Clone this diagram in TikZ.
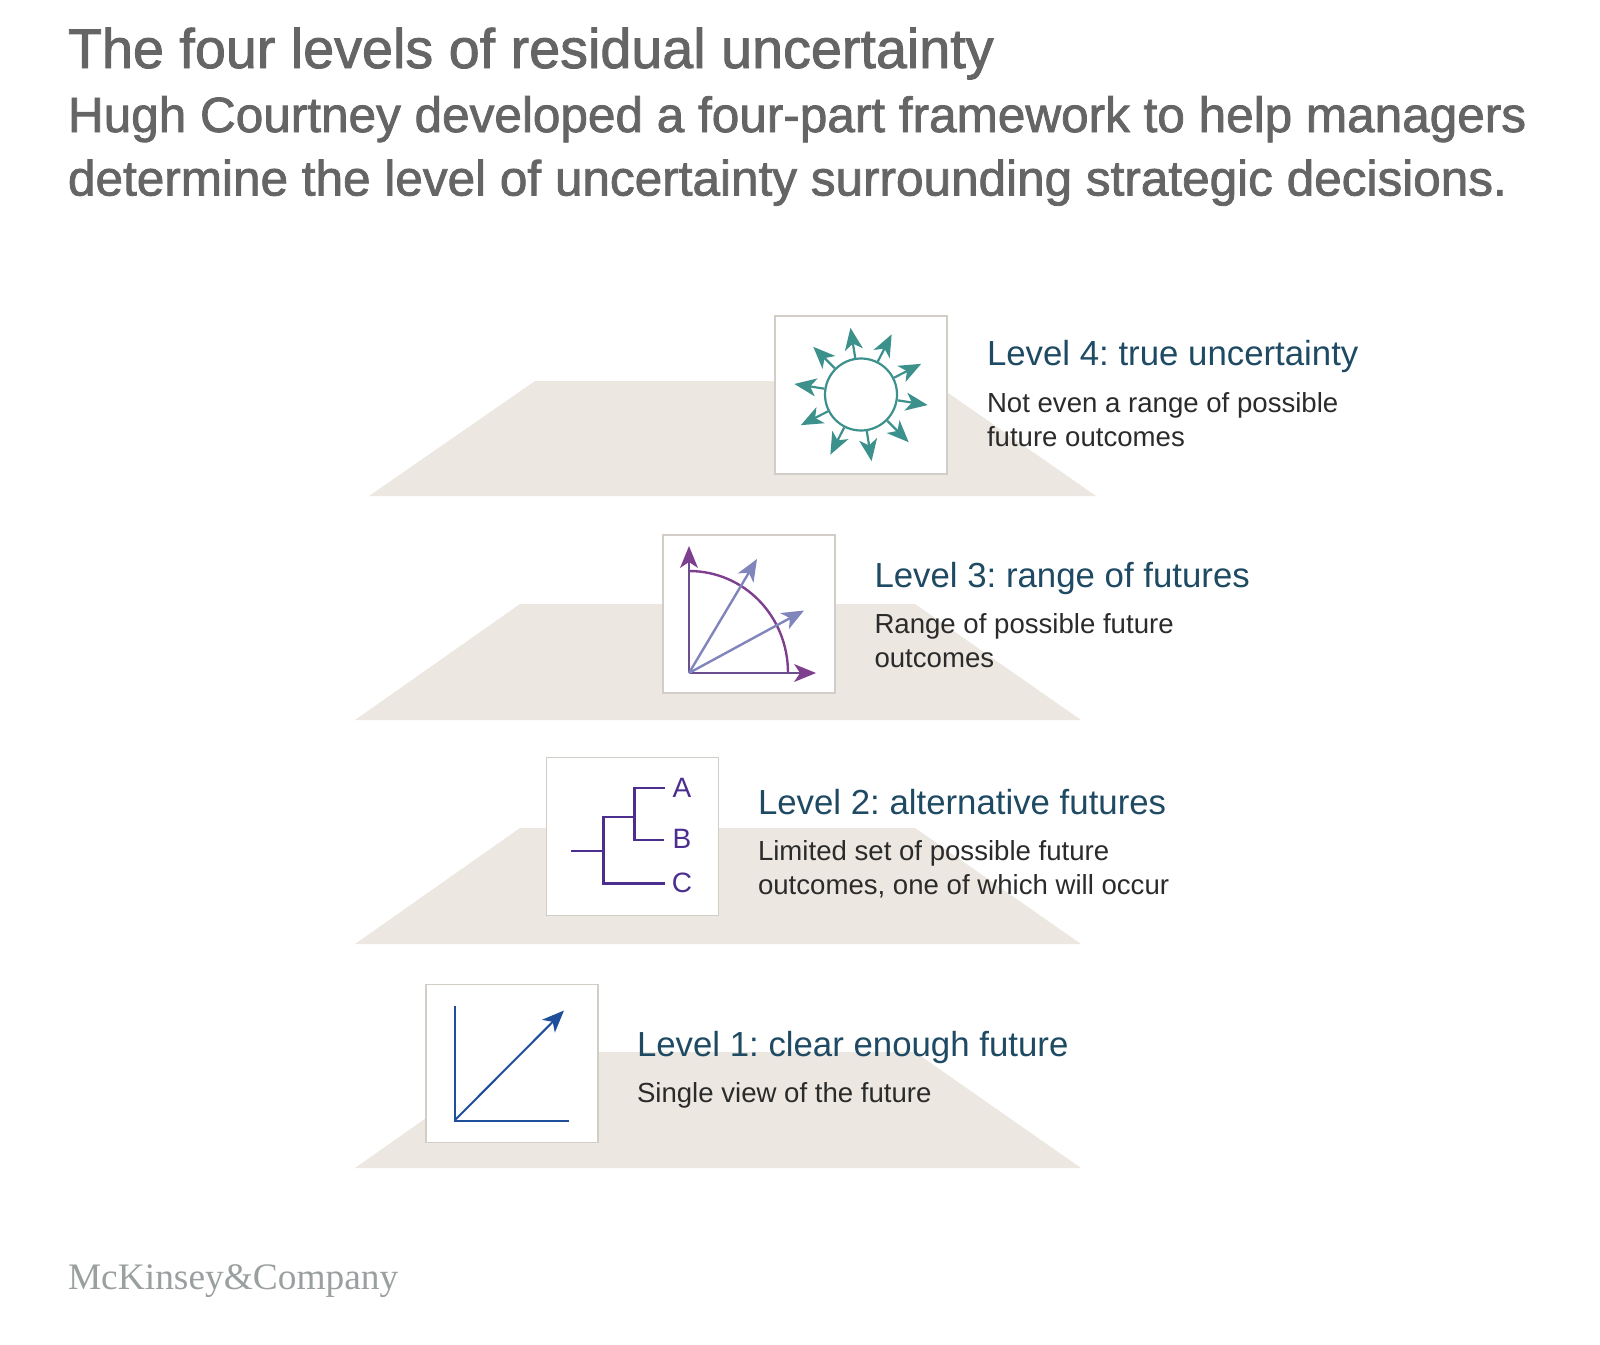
\documentclass[tikz,border=0pt]{standalone}
\usepackage{fontspec}
\setmainfont{Liberation Sans}
\newfontfamily\titlefont[FakeBold=1.6]{Liberation Sans}
\newfontfamily\logofont{Liberation Serif}
\usetikzlibrary{arrows.meta,calc}
\definecolor{titlegray}{HTML}{656565}
\definecolor{headblue}{HTML}{1F4A63}
\definecolor{desctext}{HTML}{2B2B2B}
\definecolor{plinth}{HTML}{ECE7E0}
\definecolor{boxline}{HTML}{D2CEC7}
\definecolor{tealline}{HTML}{3D918C}
\definecolor{plum}{HTML}{7F3F8F}
\definecolor{lilac}{HTML}{8085BB}
\definecolor{axisplum}{HTML}{6B4E8F}
\definecolor{treeviolet}{HTML}{4B2E8E}
\definecolor{chartblue}{HTML}{1F4E9B}
\definecolor{logogray}{HTML}{9A9FA0}
\tikzset{
  txt/.style={anchor=base west,inner sep=0pt,outer sep=0pt},
  titletxt/.style={txt,text=titlegray,font=\titlefont\frenchspacing\fontsize{27.85}{30}\selectfont},
  subtxt/.style={txt,text=titlegray,font=\titlefont\frenchspacing\fontsize{24.75}{27}\selectfont},
  headtxt/.style={txt,text=headblue,font=\frenchspacing\fontsize{17.4}{20}\selectfont},
  desctxt/.style={txt,text=desctext,font=\frenchspacing\fontsize{13.8}{17}\selectfont},
  iconbox/.style={draw=boxline,fill=white,line width=0.7pt,minimum width=86pt,minimum height=79pt,inner sep=0pt},
  plinthfill/.style={fill=plinth},
  tealarrow/.style={draw=tealline,line width=1.1pt,-{Stealth[length=11pt,width=9pt,inset=3pt]}},
  fantip/.style={-{Stealth[length=11pt,width=9pt,inset=3pt]}},
  treeline/.style={draw=treeviolet,line width=1.1pt},
  treetxt/.style={text=treeviolet,inner sep=0pt,anchor=base,font=\fontsize{14}{17}\selectfont},
}
\begin{document}
\begin{tikzpicture}[x=0.5pt,y=-0.5pt]
\useasboundingbox (0,0) rectangle (1600,1344);
% plinths
\fill[plinthfill] (535,381) -- (931,381) -- (1096,496) -- (369,496) -- cycle;
\fill[plinthfill] (520,604) -- (915,604) -- (1081,720) -- (355,720) -- cycle;
\fill[plinthfill] (520,828) -- (915,828) -- (1081,944) -- (355,944) -- cycle;
\fill[plinthfill] (520,1052) -- (915,1052) -- (1081,1168) -- (355,1168) -- cycle;
% title
\node[titletxt] (title) at (68,68) {The four levels of residual uncertainty};
\node[subtxt] (sub1) at (68,132) {Hugh Courtney developed a four-part framework to help managers};
\node[subtxt] (sub2) at (68,195.5) {determine the level of uncertainty surrounding strategic decisions.};
% level 4
\node[iconbox] (box4) at (861,395) {};
\node[draw=tealline,line width=1.1pt,circle,minimum size=36pt,inner sep=0pt] (sun) at (861,394.5) {};
\foreach \a [count=\i] in {-99,-63,-27,9,45,81,117,153,189,225}
{
  \coordinate (ray\i) at ($(sun.center)+(\a:67.5 and 67.5)$);
  \draw[tealarrow] (sun) -- (ray\i);
}
\node[headtxt] (head4) at (987,365.5) {Level 4: true uncertainty};
\node[desctxt] (desc4a) at (987,412) {Not even a range of possible};
\node[desctxt] (desc4b) at (987,446) {future outcomes};
% level 3
\node[iconbox] (box3) at (749,614) {};
\coordinate (org3) at (689,673);
\coordinate (up3) at (689,546);
\coordinate (right3) at (816,673);
\coordinate (fan1) at (757,559);
\coordinate (fan2) at (804,610.5);
\draw[draw=plum,line width=1.2pt] (689,571) .. controls (744,571) and (788,616) .. (788,673);
\draw[draw=axisplum,line width=1.2pt] (org3) -- (689,560);
\draw[draw=axisplum,line width=1.2pt] (org3) -- (800,673);
\draw[draw=plum,line width=0pt,fantip,fill=plum] (689,556) -- (up3);
\draw[draw=plum,line width=0pt,fantip,fill=plum] (805,673) -- (right3);
\draw[draw=lilac,line width=1.2pt,fantip] (org3) -- (fan1);
\draw[draw=lilac,line width=1.2pt,fantip] (org3) -- (fan2);
\node[headtxt] (head3) at (874.5,587.5) {Level 3: range of futures};
\node[desctxt] (desc3a) at (874.5,633) {Range of possible future};
\node[desctxt] (desc3b) at (874.5,667.5) {outcomes};
% level 2
\node[iconbox] (box2) at (632.5,836.5) {};
\node[treetxt] (optA) at (682,797) {A};
\node[treetxt] (optB) at (682,848) {B};
\node[treetxt] (optC) at (682,892) {C};
\coordinate (stem) at (571,851);
\coordinate (endA) at (665,788);
\coordinate (endB) at (663.5,840);
\coordinate (endC) at (665,883.5);
\draw[treeline] (stem) -- (603.5,851);
\draw[treeline] (634.5,817) -- (603.5,817) -- (603.5,883.5) -- (endC);
\draw[treeline] (endA) -- (634.5,788) -- (634.5,840) -- (endB);
\node[headtxt] (head2) at (758,814.5) {Level 2: alternative futures};
\node[desctxt] (desc2a) at (758,860) {Limited set of possible future};
\node[desctxt] (desc2b) at (758,894.5) {outcomes, one of which will occur};
% level 1
\node[iconbox] (box1) at (512,1063.5) {};
\coordinate (org1) at (454.5,1120.5);
\draw[draw=chartblue,line width=1pt] (454.5,1006) -- (org1) -- (569,1120.5);
\coordinate (tip1) at (564,1010.5);
\draw[draw=chartblue,line width=1pt,fantip] (org1) -- (tip1);
\node[headtxt] (head1) at (637,1056.5) {Level 1: clear enough future};
\node[desctxt] (desc1) at (637,1102.5) {Single view of the future};
% logo
\node[txt,text=logogray,font=\logofont\fontsize{18.7}{22}\selectfont] (logo) at (68,1289) {McKinsey\&Company};
\end{tikzpicture}
\end{document}
